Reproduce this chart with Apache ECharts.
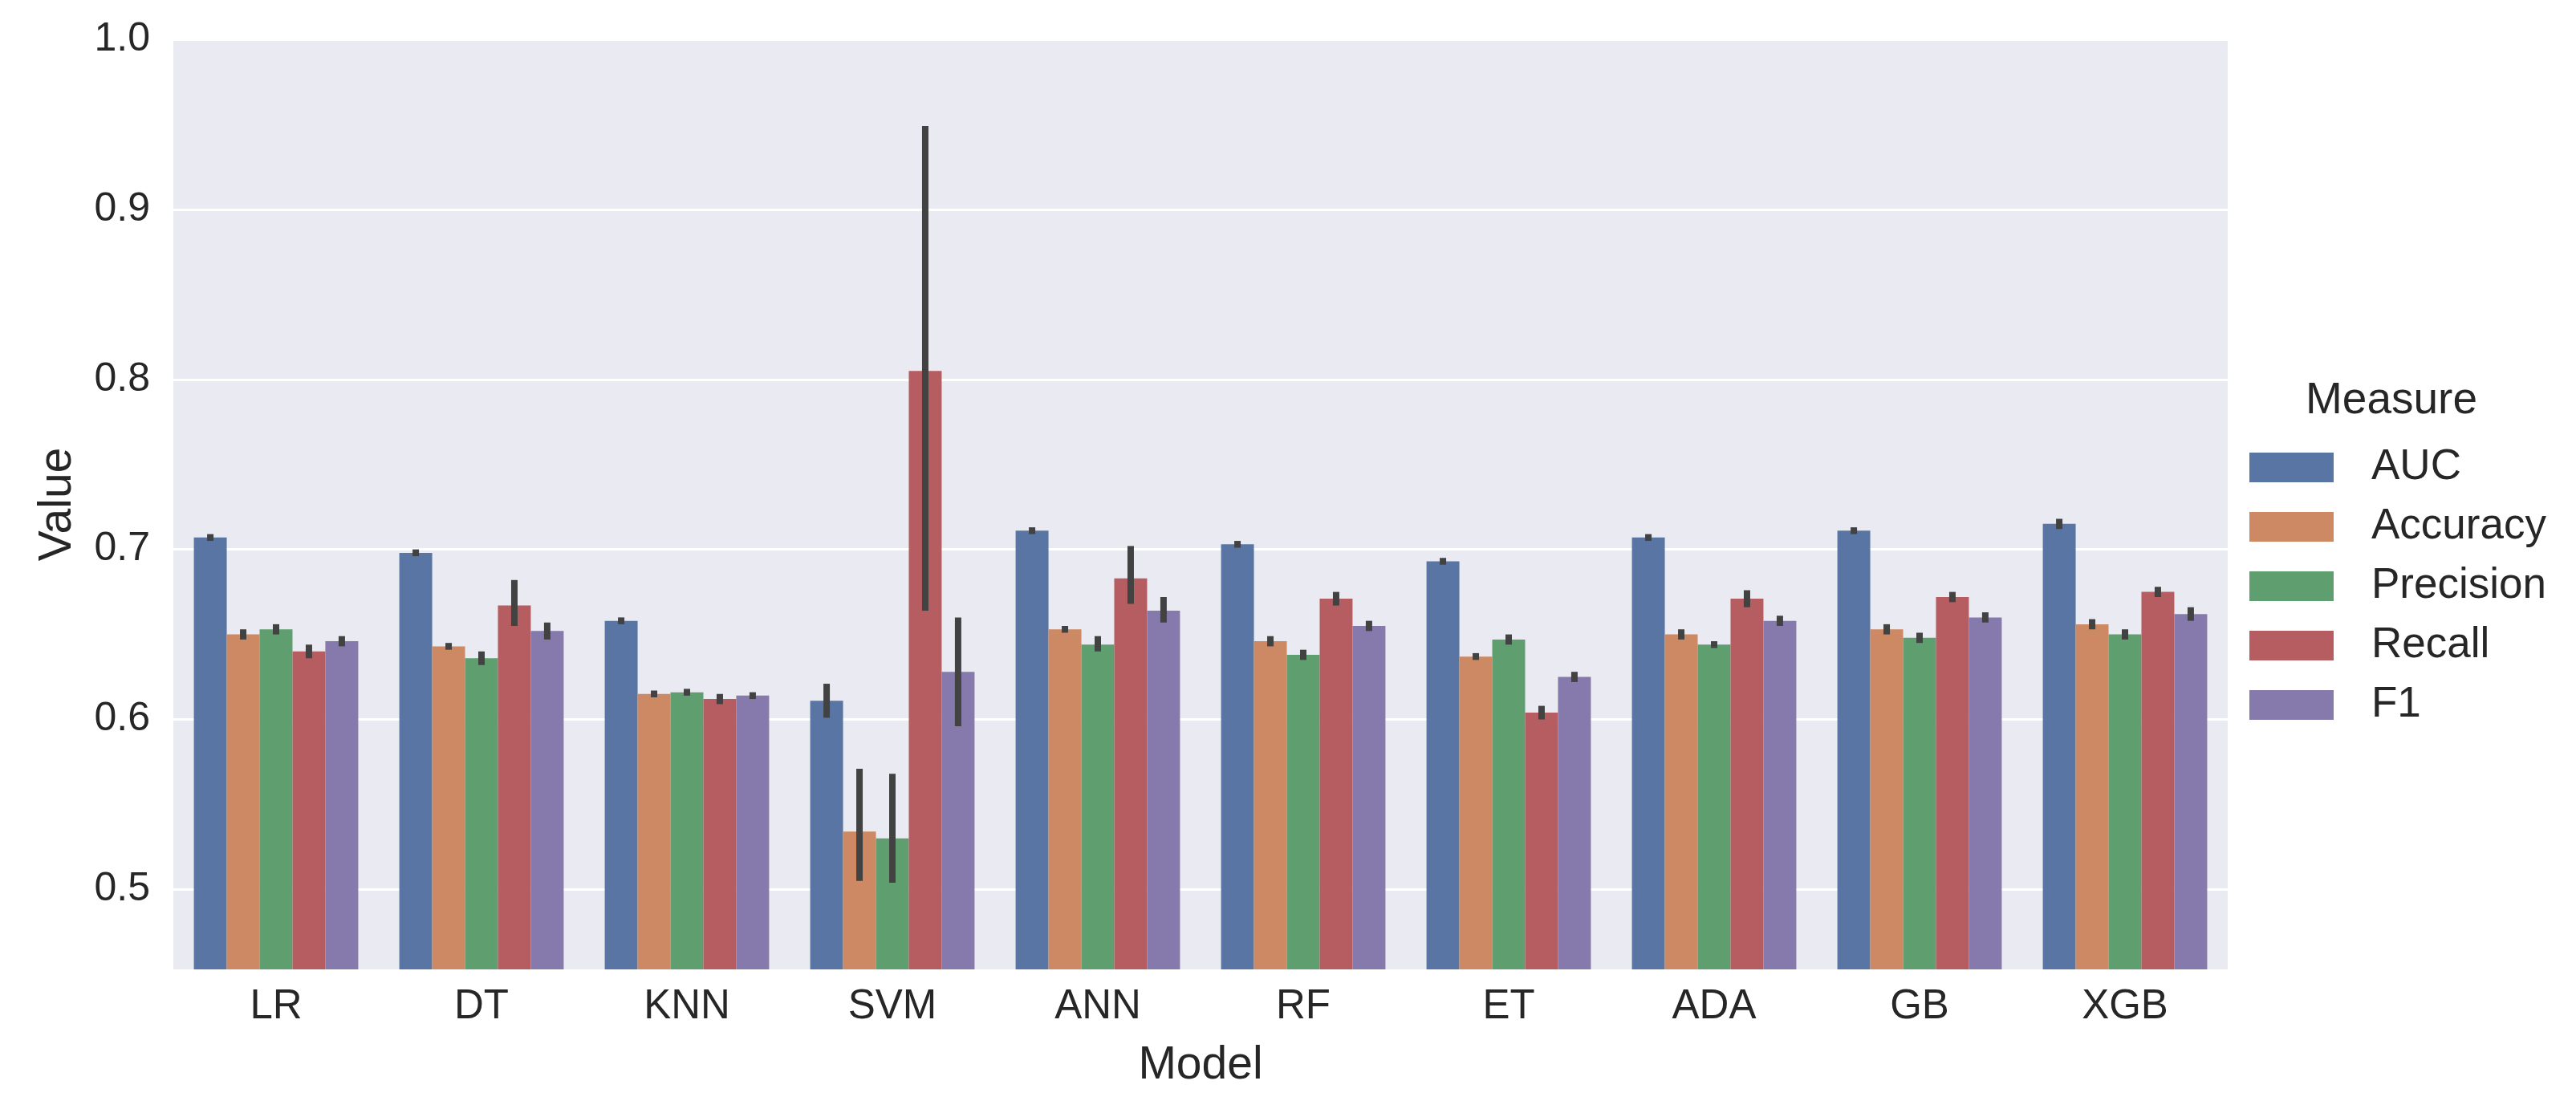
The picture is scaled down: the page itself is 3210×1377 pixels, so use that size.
<!DOCTYPE html>
<html>
<head>
<meta charset="utf-8">
<script src="https://cdn.jsdelivr.net/npm/echarts@6/dist/echarts.min.js"></script>
<style>
html,body{margin:0;padding:0;background:#fff;}
#chart{width:3210px;height:1377px;}
</style>
</head>
<body>
<div id="chart"></div>
<script>
// ---- data ----
const models = ['LR','DT','KNN','SVM','ANN','RF','ET','ADA','GB','XGB'];
const measures = ['AUC','Accuracy','Precision','Recall','F1'];

const auc       = [0.707, 0.698, 0.658, 0.611, 0.711, 0.703, 0.693, 0.707, 0.711, 0.715];
const accuracy  = [0.650, 0.643, 0.615, 0.534, 0.653, 0.646, 0.637, 0.650, 0.653, 0.656];
const precision = [0.653, 0.636, 0.616, 0.530, 0.644, 0.638, 0.647, 0.644, 0.648, 0.650];
const recall    = [0.640, 0.667, 0.612, 0.805, 0.683, 0.671, 0.604, 0.671, 0.672, 0.675];
const f1        = [0.646, 0.652, 0.614, 0.628, 0.664, 0.655, 0.625, 0.658, 0.660, 0.662];

// error bar (confidence interval) ends
const aucLow   = [0.705, 0.696, 0.656, 0.601, 0.709, 0.701, 0.691, 0.705, 0.709, 0.712];
const aucHigh  = [0.709, 0.700, 0.660, 0.621, 0.713, 0.705, 0.695, 0.709, 0.713, 0.718];
const accLow   = [0.647, 0.641, 0.613, 0.505, 0.651, 0.643, 0.635, 0.647, 0.650, 0.653];
const accHigh  = [0.653, 0.645, 0.617, 0.571, 0.655, 0.649, 0.639, 0.653, 0.656, 0.659];
const precLow  = [0.650, 0.632, 0.614, 0.504, 0.640, 0.635, 0.644, 0.642, 0.645, 0.647];
const precHigh = [0.656, 0.640, 0.618, 0.568, 0.649, 0.641, 0.650, 0.646, 0.651, 0.653];
const recLow   = [0.636, 0.655, 0.609, 0.664, 0.668, 0.667, 0.600, 0.666, 0.669, 0.672];
const recHigh  = [0.644, 0.682, 0.615, 0.949, 0.702, 0.675, 0.608, 0.676, 0.675, 0.678];
const f1Low    = [0.643, 0.647, 0.612, 0.596, 0.657, 0.652, 0.622, 0.655, 0.657, 0.658];
const f1High   = [0.649, 0.657, 0.616, 0.660, 0.672, 0.658, 0.628, 0.661, 0.663, 0.666];

const yTickMin = 0.453, yTickMax = 1.0;

// ---- styling ----
const colors = ['#5975a4', '#cc8963', '#5f9e6e', '#b55d60', '#857aab'];
const FONT = '"Liberation Sans", Arial, sans-serif';
const TXT = '#262626';

const values = [auc, accuracy, precision, recall, f1];
const lows = [aucLow, accLow, precLow, recLow, f1Low];
const highs = [aucHigh, accHigh, precHigh, recHigh, f1High];

const nS = measures.length;
const groupFrac = 0.8;
function errRenderer(i) {
  return function (params, api) {
    const x = api.value(0);
    const lo = api.coord([x, api.value(1)]);
    const hi = api.coord([x, api.value(2)]);
    const bw = api.size([1, 0])[0];
    const off = (-groupFrac / 2 + groupFrac / nS * (i + 0.5)) * bw;
    return {
      type: 'line',
      shape: { x1: lo[0] + off, y1: lo[1], x2: hi[0] + off, y2: hi[1] },
      style: { stroke: '#424242', lineWidth: 8 }
    };
  };
}

const series = [];
measures.forEach((m, i) => {
  series.push({
    name: m,
    type: 'bar',
    data: values[i],
    itemStyle: { color: colors[i] },
    barCategoryGap: '20%',
    barGap: '0%',
    z: 2
  });
});
measures.forEach((m, i) => {
  series.push({
    name: m + ' CI',
    type: 'custom',
    renderItem: errRenderer(i),
    encode: { x: 0, y: [1, 2] },
    data: models.map((c, k) => [k, lows[i][k], highs[i][k]]),
    z: 5,
    silent: true
  });
});

const chart = echarts.init(document.getElementById('chart'), null, { renderer: 'canvas' });
chart.setOption({
  backgroundColor: '#ffffff',
  animation: false,
  textStyle: { fontFamily: FONT, color: TXT },
  grid: {
    left: 216, right: 434, top: 49, bottom: 169,
    show: true, backgroundColor: '#EAEAF2', borderWidth: 0
  },
  xAxis: {
    type: 'category',
    data: models,
    axisLine: { show: false },
    axisTick: { show: false },
    axisLabel: { fontSize: 51, color: TXT, fontFamily: FONT, margin: 21 },
    splitLine: { show: false },
    name: 'Model',
    nameLocation: 'middle',
    nameGap: 92,
    nameTextStyle: { fontSize: 57, color: TXT, fontFamily: FONT }
  },
  yAxis: {
    type: 'value',
    min: yTickMin,
    max: yTickMax,
    splitNumber: 5,
    axisLine: { show: false },
    axisTick: { show: false },
    axisLabel: {
      fontSize: 50, color: TXT, fontFamily: FONT, margin: 29,
      showMinLabel: false,
      formatter: v => v.toFixed(1)
    },
    splitLine: { show: true, showMinLine: false, lineStyle: { color: '#ffffff', width: 3 } },
    name: 'Value',
    nameLocation: 'middle',
    nameGap: 115,
    nameRotate: 90,
    nameTextStyle: { fontSize: 57, color: TXT, fontFamily: FONT }
  },
  legend: {
    data: measures,
    orient: 'vertical',
    left: 2798,
    top: 551,
    itemWidth: 105,
    itemHeight: 37,
    itemGap: 21,
    icon: 'rect',
    selectedMode: false,
    textStyle: { fontSize: 53, color: TXT, fontFamily: FONT, padding: [0, 0, 0, 42] }
  },
  graphic: [{
    type: 'text',
    x: 2980,
    y: 500,
    style: {
      text: 'Measure', fontSize: 55, fontFamily: FONT, fill: TXT,
      align: 'center', verticalAlign: 'middle'
    }
  }],
  series: series
});
</script>
</body>
</html>
